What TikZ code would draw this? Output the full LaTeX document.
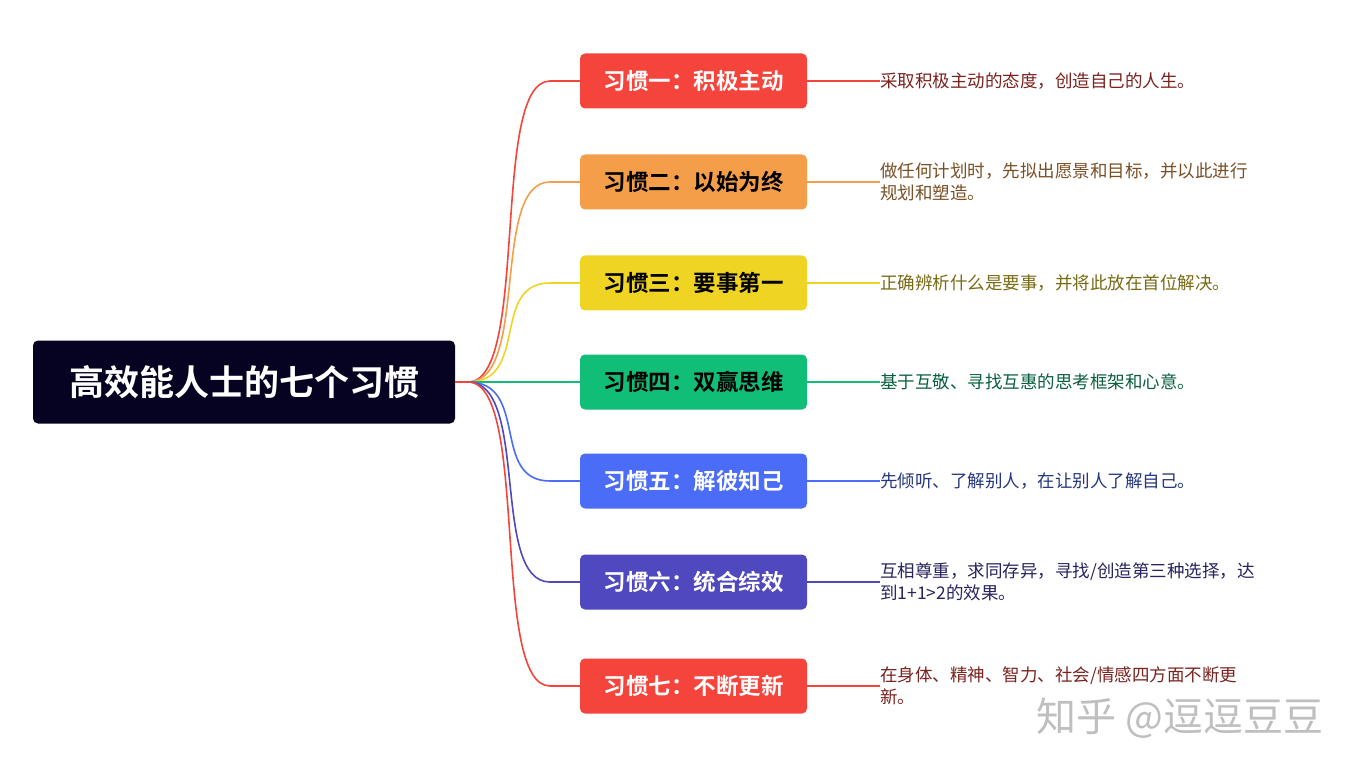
\documentclass[tikz,border=0pt]{standalone}
\usepackage{fontspec}
\newfontfamily\cjk{Noto Sans CJK SC}
\newfontfamily\cjkb{Noto Sans CJK SC Bold}
\definecolor{c1}{HTML}{F5443B}\definecolor{t1}{HTML}{7A221E}
\definecolor{c2}{HTML}{F59E4A}\definecolor{t2}{HTML}{7A4F25}
\definecolor{c3}{HTML}{F0D423}\definecolor{t3}{HTML}{786A12}
\definecolor{c4}{HTML}{11BE78}\definecolor{t4}{HTML}{095F3C}
\definecolor{c5}{HTML}{4A6CF7}\definecolor{t5}{HTML}{25367C}
\definecolor{c6}{HTML}{4F48BF}\definecolor{t6}{HTML}{282460}
\definecolor{c7}{HTML}{F5443B}\definecolor{t7}{HTML}{7A221E}
\definecolor{rootc}{HTML}{050321}
\begin{document}
\begin{tikzpicture}[x=1pt,y=-1pt,
 hb/.style={fill=#1,rounded corners=5pt,minimum width=227pt,minimum height=55pt,font=\cjkb\fontsize{22.5}{26}\selectfont,text=white,inner sep=0pt},
 desc/.style={anchor=west,align=left,font=\cjk\fontsize{17.5}{22}\selectfont,text=#1,inner sep=0pt},
 br/.style={draw=#1,line width=1.6pt}]
\useasboundingbox (0,0) rectangle (1359,775);
\node[fill=rootc,rounded corners=5pt,minimum width=422pt,minimum height=83pt,text=white,font=\cjkb\fontsize{35}{40}\selectfont] (root) at (244,382) {高效能人士的七个习惯};
\coordinate (o) at (468,382);
\draw[c1,line width=1.6pt] (root.east) -- (o);
\foreach \i/\y/\t/\d/\tc in {
 1/81/习惯一：积极主动/{采取积极主动的态度，创造自己的人生。}/white,
 2/182/习惯二：以始为终/{做任何计划时，先拟出愿景和目标，并以此进行\\规划和塑造。}/black,
 3/283/习惯三：要事第一/{正确辨析什么是要事，并将此放在首位解决。}/black,
 4/382/习惯四：双赢思维/{基于互敬、寻找互惠的思考框架和心意。}/black,
 5/481/习惯五：解彼知己/{先倾听、了解别人，在让别人了解自己。}/white,
 6/582/习惯六：统合综效/{互相尊重，求同存异，寻找/创造第三种选择，达\\到1+1>2的效果。}/white,
 7/686/习惯七：不断更新/{在身体、精神、智力、社会/情感四方面不断更\\新。}/white}{
 \node[hb=c\i,text=\tc] (h\i) at (693.5,\y) {\t};
 \node[desc=t\i] (d\i) at (880,\y) {\d};
 \draw[br=c\i] (o) .. controls (530,382) and (490,\y) .. (550,\y) -- (h\i.west);
 \draw[br=c\i] (h\i.east) -- (d\i.west);
}
\node[text=black!25,font=\cjk\fontsize{40}{44}\selectfont] (wm) at (1180,718) {知乎 @逗逗豆豆};
\end{tikzpicture}
\end{document}
